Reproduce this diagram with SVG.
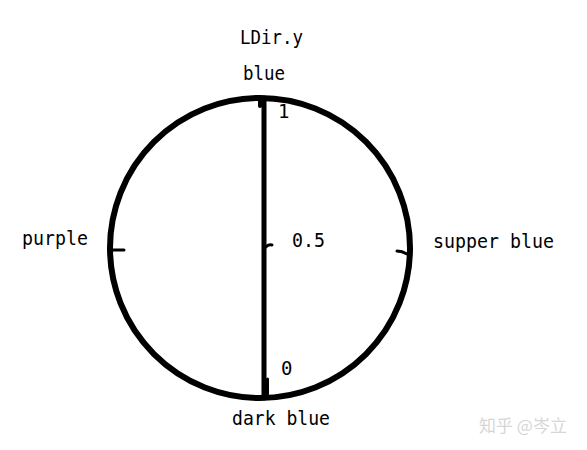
<svg xmlns="http://www.w3.org/2000/svg" width="587" height="450" viewBox="0 0 587 450">
<style>
.t{font-family:"DejaVu Sans Mono","Liberation Mono",monospace;font-size:19px;fill:#000}
.s{fill:none;stroke:#000;stroke-linecap:round}
.w{font-family:"Noto Sans CJK SC",sans-serif;font-size:17px;fill:#d6d6d6}
</style>
<rect width="587" height="450" fill="#fff"/>
<g id="circle"><circle cx="260" cy="248" r="150" class="s" stroke-width="6"/></g>
<g id="connectors">
<line x1="264" y1="98" x2="264" y2="398" class="s" stroke-width="5" stroke-linecap="butt"/>
<path d="M260 99 L260 106" class="s" stroke-width="4"/>
<path d="M113 250 L124 250" class="s" stroke-width="3"/>
<path d="M397 251 Q402 251 407 254" class="s" stroke-width="3"/>
<path d="M266 247 Q268 244 272 245" class="s" stroke-width="3"/>
<path d="M267.5 379 L267.5 394" class="s" stroke-width="3"/>
</g>
<g id="labels">
<text x="240" y="44" class="t" textLength="63" lengthAdjust="spacingAndGlyphs">LDir.y</text>
<text x="243" y="80" class="t" textLength="42" lengthAdjust="spacingAndGlyphs">blue</text>
<text x="278" y="118" class="t">1</text>
<text x="292" y="247" class="t" textLength="33" lengthAdjust="spacingAndGlyphs">0.5</text>
<text x="281" y="375" class="t">0</text>
<text x="232" y="425" class="t" textLength="98" lengthAdjust="spacingAndGlyphs">dark blue</text>
<text x="22" y="245" class="t" textLength="66" lengthAdjust="spacingAndGlyphs">purple</text>
<text x="433" y="248" class="t" textLength="121" lengthAdjust="spacingAndGlyphs">supper blue</text>
<text x="479" y="432" class="w">知乎 @岑立</text>
</g>
</svg>
